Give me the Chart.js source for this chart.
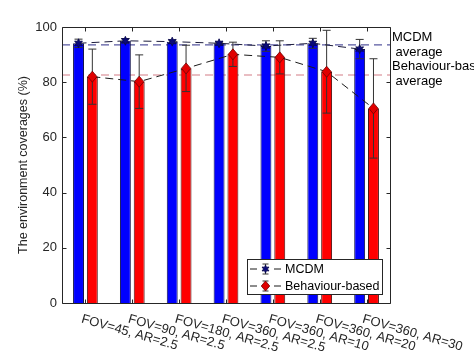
<!DOCTYPE html>
<html>
<head>
<meta charset="utf-8">
<script src="https://cdn.jsdelivr.net/npm/chart.js@4.4.1/dist/chart.umd.min.js"></script>
<style>
html,body{margin:0;padding:0;background:#fff;}
#wrap{width:474px;height:355px;}
</style>
</head>
<body>
<div id="wrap"><canvas id="c" width="474" height="355"></canvas></div>
<script>
// ---- data ----
const categories = ['FOV=45, AR=2.5','FOV=90, AR=2.5','FOV=180, AR=2.5','FOV=360, AR=2.5','FOV=360, AR=10','FOV=360, AR=20','FOV=360, AR=30'];
const mcdmMean = [94.1, 95.0, 94.7, 94.1, 93.1, 94.1, 92.0];
const mcdmStd  = [1.5, 0.8, 0.6, 0.4, 1.9, 1.8, 3.5];
const behMean  = [82.0, 80.2, 85.0, 90.1, 89.0, 83.8, 70.5];
const behStd   = [10.0, 9.7, 8.4, 4.4, 6.0, 15.0, 18.0];
const averages = [93.5, 82.6];          // MCDM average, Behaviour-based average
const seriesNames = ['MCDM', 'Behaviour-based'];
const averageLabels = [['MCDM', ' average'], ['Behaviour-bas', ' average']];
const yTicks = [0, 20, 40, 60, 80, 100];
const yTitle = 'The environment coverages (%)';

const FONT = '"Liberation Sans", Arial, Helvetica, sans-serif';
const AXC = '#262626';

function star(ctx, x, y, r) {
  ctx.beginPath();
  const n = 6, ri = r * 0.5;
  for (let k = 0; k < n * 2; k++) {
    const rr = k % 2 === 0 ? r : ri;
    const a = -Math.PI / 2 + k * Math.PI / n;
    const px = x + rr * Math.cos(a), py = y + rr * Math.sin(a);
    if (k === 0) ctx.moveTo(px, py); else ctx.lineTo(px, py);
  }
  ctx.closePath();
}
function diamond(ctx, x, y, r) {
  ctx.beginPath();
  ctx.moveTo(x, y - r); ctx.lineTo(x + r * 0.85, y); ctx.lineTo(x, y + r); ctx.lineTo(x - r * 0.85, y);
  ctx.closePath();
}
const markerStyles = [
  {draw: star, fill: '#0a0a7a', stroke: '#06064a', r: 4.5},
  {draw: diamond, fill: '#e00000', stroke: '#700000', r: 5.5}
];
const stds = [mcdmStd, behStd];
const means = [mcdmMean, behMean];

function errorGlyph(ctx, x, y, half, cap) {
  ctx.beginPath();
  ctx.moveTo(x, y - half); ctx.lineTo(x, y + half);
  ctx.moveTo(x - cap, y - half); ctx.lineTo(x + cap, y - half);
  ctx.moveTo(x - cap, y + half); ctx.lineTo(x + cap, y + half);
  ctx.stroke();
}

const matlabPlugin = {
  id: 'matlab',
  beforeDatasetsDraw(chart) {
    const {ctx, chartArea: a, scales: {y}} = chart;
    ctx.save();
    ctx.beginPath(); ctx.rect(a.left, a.top, a.right - a.left, a.bottom - a.top); ctx.clip();
    ctx.lineWidth = 1.2;
    ctx.setLineDash([8, 5]);
    const cols = ['rgba(70,70,150,0.9)', 'rgba(205,110,120,0.9)'];
    averages.forEach((v, i) => {
      const py = y.getPixelForValue(v);
      ctx.strokeStyle = cols[i];
      ctx.beginPath(); ctx.moveTo(a.left, py); ctx.lineTo(a.right, py); ctx.stroke();
    });
    ctx.restore();
  },
  afterDatasetsDraw(chart) {
    const {ctx, chartArea: a, scales: {x, y}} = chart;
    ctx.save();
    [0, 1].forEach(d => {
      const meta = chart.getDatasetMeta(d);
      ctx.setLineDash([]);
      ctx.strokeStyle = '#333';
      ctx.lineWidth = 1;
      meta.data.forEach((bar, j) => {
        const yt = y.getPixelForValue(means[d][j] + stds[d][j]);
        const yb = y.getPixelForValue(means[d][j] - stds[d][j]);
        ctx.beginPath();
        ctx.moveTo(bar.x, yt); ctx.lineTo(bar.x, yb);
        ctx.moveTo(bar.x - 4, yt); ctx.lineTo(bar.x + 4, yt);
        ctx.moveTo(bar.x - 4, yb); ctx.lineTo(bar.x + 4, yb);
        ctx.stroke();
      });
      ctx.setLineDash([8, 5]);
      ctx.strokeStyle = d === 0 ? '#1c1c3c' : '#1a1a1a';
      ctx.lineWidth = 1;
      ctx.beginPath();
      meta.data.forEach((bar, j) => {
        if (j === 0) ctx.moveTo(bar.x, bar.y); else ctx.lineTo(bar.x, bar.y);
      });
      ctx.stroke();
      ctx.setLineDash([]);
      const m = markerStyles[d];
      meta.data.forEach(bar => {
        m.draw(ctx, bar.x, bar.y, m.r);
        ctx.fillStyle = m.fill; ctx.fill();
        ctx.strokeStyle = m.stroke; ctx.lineWidth = 0.8; ctx.stroke();
      });
    });
    ctx.restore();
  },
  afterDraw(chart) {
    const {ctx, chartArea: a, scales: {x, y}} = chart;
    ctx.save();
    ctx.strokeStyle = AXC; ctx.lineWidth = 1; ctx.setLineDash([]);
    const L = Math.round(a.left) + 0.5, R = Math.round(a.right) + 0.5, T = Math.round(a.top) + 0.5, B = Math.round(a.bottom) + 0.5;
    ctx.beginPath(); ctx.rect(L, T, R - L, B - T); ctx.stroke();
    ctx.beginPath();
    yTicks.forEach(v => {
      const py = Math.round(y.getPixelForValue(v)) + 0.5;
      ctx.moveTo(L, py); ctx.lineTo(L + 4, py);
      ctx.moveTo(R, py); ctx.lineTo(R - 4, py);
    });
    categories.forEach((c, i) => {
      const px = Math.round(x.getPixelForValue(i)) + 0.5;
      ctx.moveTo(px, B); ctx.lineTo(px, B - 4);
      ctx.moveTo(px, T); ctx.lineTo(px, T + 4);
    });
    ctx.stroke();

    // rotated x tick labels
    ctx.fillStyle = AXC;
    ctx.font = '13px ' + FONT;
    ctx.textAlign = 'left'; ctx.textBaseline = 'top';
    categories.forEach((c, i) => {
      const px = x.getPixelForValue(i);
      ctx.save();
      ctx.translate(px - 2, B + 9);
      ctx.rotate(16 * Math.PI / 180);
      ctx.fillText(c, 0, 0);
      ctx.restore();
    });

    // average labels on the right
    ctx.fillStyle = '#000';
    ctx.font = '13px ' + FONT;
    ctx.textBaseline = 'middle';
    const labY = [[37, 52], [66, 81]];
    averageLabels.forEach((lines, i) => {
      lines.forEach((t, k) => ctx.fillText(t, a.right + 2, labY[i][k]));
    });

    // legend
    const lx = 247, ly = 259, lw = 135, lh = 35;
    ctx.fillStyle = '#fff';
    ctx.fillRect(lx, ly, lw, lh);
    ctx.strokeStyle = AXC; ctx.lineWidth = 1;
    ctx.strokeRect(lx + 0.5, ly + 0.5, lw, lh);
    const rows = [ly + 10, ly + 27];
    seriesNames.forEach((name, d) => {
      const ry = rows[d];
      ctx.strokeStyle = '#1a1a1a'; ctx.lineWidth = 1;
      ctx.beginPath();
      ctx.moveTo(lx + 3, ry); ctx.lineTo(lx + 10, ry);
      ctx.moveTo(lx + 27, ry); ctx.lineTo(lx + 34, ry);
      ctx.stroke();
      ctx.strokeStyle = '#333';
      errorGlyph(ctx, lx + 18.5, ry, 5, 3);
      const m = markerStyles[d];
      m.draw(ctx, lx + 18.5, ry, m.r - 0.5);
      ctx.fillStyle = m.fill; ctx.fill();
      ctx.strokeStyle = m.stroke; ctx.lineWidth = 0.8; ctx.stroke();
      ctx.fillStyle = '#000';
      ctx.font = '12.5px ' + FONT;
      ctx.textAlign = 'left'; ctx.textBaseline = 'middle';
      ctx.fillText(name, lx + 38, ry + 1);
    });
    ctx.restore();
  }
};

new Chart(document.getElementById('c'), {
  type: 'bar',
  data: {
    labels: categories,
    datasets: [
      {label: seriesNames[0], data: mcdmMean, backgroundColor: '#0000ff', borderColor: '#10104a', borderWidth: 1, categoryPercentage: 0.59, barPercentage: 0.79},
      {label: seriesNames[1], data: behMean, backgroundColor: '#ff0000', borderColor: '#4a1010', borderWidth: 1, categoryPercentage: 0.59, barPercentage: 0.79}
    ]
  },
  options: {
    responsive: false,
    animation: false,
    devicePixelRatio: 1,
    layout: {padding: {left: 0, top: 27, right: 84, bottom: 52}},
    plugins: {legend: {display: false}, tooltip: {enabled: false}},
    scales: {
      x: {display: false, offset: true},
      y: {
        min: 0, max: 100,
        afterFit(s) { s.width = 62; },
        afterBuildTicks(s) { s.ticks = yTicks.map(v => ({value: v})); },
        grid: {display: false, drawTicks: false},
        border: {display: false},
        ticks: {font: {size: 13, family: FONT}, color: AXC, padding: 5},
        title: {display: true, text: yTitle, font: {size: 12.5, family: FONT}, color: AXC, padding: {top: 16, bottom: 0}}
      }
    }
  },
  plugins: [matlabPlugin]
});
</script>
</body>
</html>
